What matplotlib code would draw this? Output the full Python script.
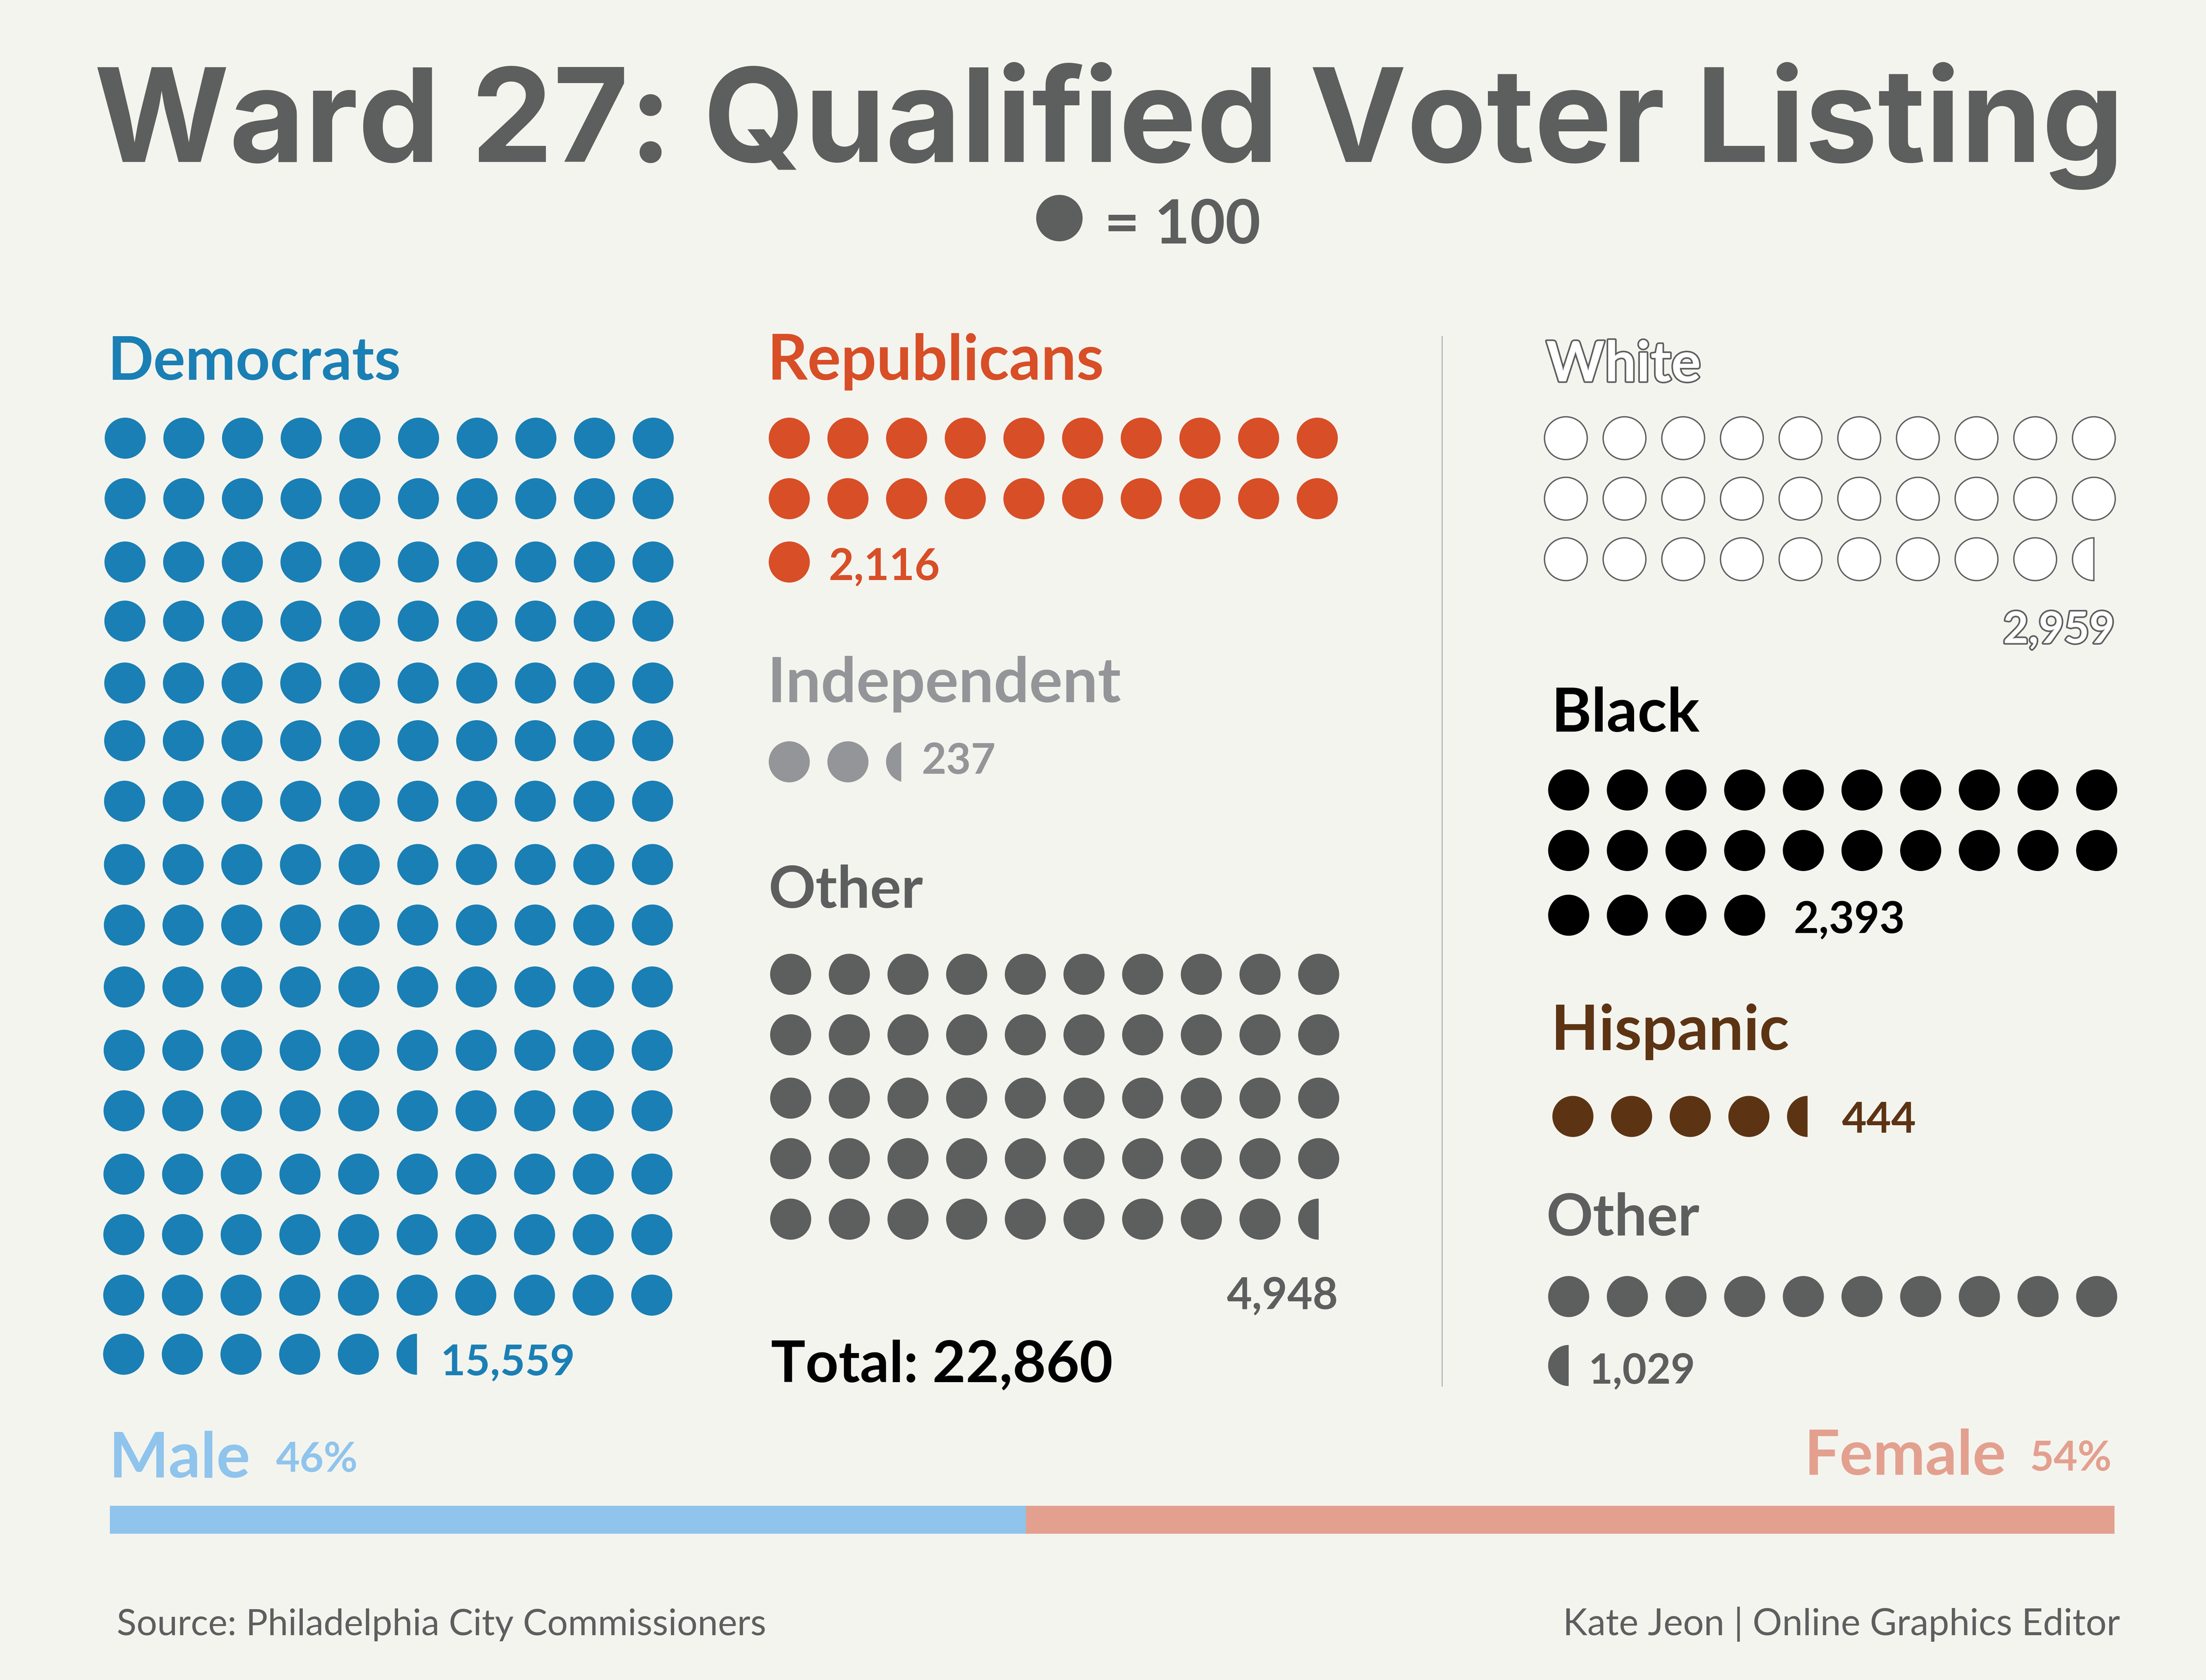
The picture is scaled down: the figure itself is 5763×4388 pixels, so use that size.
import numpy as np
import matplotlib
matplotlib.use("Agg")
import matplotlib.pyplot as plt
from matplotlib.patches import Circle, Polygon
import matplotlib.patheffects as pe

# ---------- data ----------
groups = ["Democrats", "Republicans", "Independent", "Other", "White", "Black", "Hispanic", "Other"]
counts = [15559, 2116, 237, 4948, 2959, 2393, 444, 1029]
whole_dots = [155, 21, 2, 49, 29, 24, 4, 10]
partial_dot = [0.5, 0, 0.37, 0.5, 0.5, 0, 0.5, 0.5]
total_label = "Total: 22,860"
gender_names = ["Male", "Female"]
gender_labels = ["46%", "54%"]
gender_bar = [45.7, 54.3]

# ---------- style / layout (reference scale 1568 x 1194) ----------
W, H = 1568, 1193.9
BG, DARK = "#f4f4ef", "#5d5e5e"
colors = ["#1a7fb4", "#d84e27", "#939598", DARK, "#ffffff", "#000000", "#5c3414", DARK]
gender_colors = ["#8fc4ec", "#e3a08f"]
FONT = "Lato"
R = 14.6
DX = 41.7
NUM_SCALE = 1.1

dot_x0 = [89, 561, 561, 562, 1113, 1115, 1118, 1115]
dot_rows = [
    [311, 354, 399, 441, 485, 526, 569, 614, 657, 701, 746, 789, 834, 877, 920, 962],
    [311, 354, 399],
    [541],
    [692, 735, 780, 823, 866],
    [311, 354, 397],
    [561, 604, 650],
    [793],
    [921, 970],
]
row_shift = [-1.1 / 15, 0, 0, 0, 0, 0, 0, 0]
# name: left, right, baseline
name_pos = [(76.5, 285, 270), (545.5, 785, 270), (545.5, 797, 499), (546, 656, 645),
            (1099, 1209, 271), (1102.5, 1208, 520), (1102.5, 1272, 746), (1099, 1208, 878)]
num_pos = [(313, 400, 977), (589, 661, 412), (655, 703, 550), (879, 951, 930),
           (1431, 1503, 457), (1275, 1347, 663), (1309, 1357, 805), (1129, 1198, 983)]
num_align = ["left", "left", "left", "right", "right", "left", "left", "left"]

fig = plt.figure(figsize=(5763 / 300, 4388 / 300), dpi=300, facecolor=BG)
ax = fig.add_axes([0, 0, 1, 1])
ax.set_xlim(0, W)
ax.set_ylim(H, 0)
ax.axis("off")
renderer = fig.canvas.get_renderer()


def fit_text(s, left, right, base, color, weight="bold", outline=False, family=FONT,
             scale=1.0, align="left"):
    t = ax.text(left if align == "left" else right, base, s, family=family, weight=weight,
                color=color, ha=align, va="baseline", fontsize=40)
    w = t.get_window_extent(renderer).width
    t.set_fontsize(scale * 40 * (right - left) * 5763 / W / w)
    if outline:
        t.set_color("#ffffff")
        t.set_path_effects([pe.Stroke(linewidth=2.0, foreground=DARK), pe.Normal()])
    return t


def dot(cx, cy, color, frac=1.0, r=R, outlined=False):
    kw = dict(facecolor=color, edgecolor=DARK if outlined else "none",
              linewidth=0.85 if outlined else 0, zorder=3)
    if frac >= 1:
        ax.add_patch(Circle((cx, cy), r, **kw))
    else:
        a = np.arccos(1 - 2 * frac)
        th = np.linspace(np.pi - a, np.pi + a, 60)
        ax.add_patch(Polygon(np.c_[cx + r * np.cos(th), cy + r * np.sin(th)], closed=True, **kw))


for g in range(len(groups)):
    n_whole, frac = whole_dots[g], partial_dot[g]
    outlined = groups[g] == "White"
    r = 15.2 if outlined else R
    n = n_whole + (1 if frac else 0)
    for k in range(n):
        row, col = divmod(k, 10)
        x = dot_x0[g] + row * row_shift[g] + col * DX
        y = dot_rows[g][row] + 0.4
        dot(x, y, colors[g], 1.0 if k < n_whole else frac, r, outlined)
    l, rr, b = name_pos[g]
    fit_text(groups[g], l, rr, b, colors[g], outline=outlined)
    l, rr, b = num_pos[g]
    fit_text(f"{counts[g]:,}", l, rr, b, colors[g], outline=outlined,
             scale=NUM_SCALE, align=num_align[g])

# title and key
fit_text("Ward 27: Qualified Voter Listing", 67, 1510, 115, DARK, weight="bold", family="Inter")
dot(753, 155, DARK, r=16.5)
fit_text("= 100", 785, 896, 173, DARK)

# total and divider
fit_text(total_label, 548, 791, 982, "#000000")
ax.plot([1025, 1025], [239, 985], color="#a7a8aa", lw=0.6)

# gender
fit_text(gender_names[0], 77.5, 178, 1050, gender_colors[0])
fit_text(gender_labels[0], 196, 249, 1046, gender_colors[0], scale=NUM_SCALE)
fit_text(gender_names[1], 1282.5, 1426, 1048, gender_colors[1])
fit_text(gender_labels[1], 1448, 1501, 1045, gender_colors[1], scale=NUM_SCALE, align="right")
bx = fig.add_axes([78 / W, 1 - 1090 / H, (1503 - 78) / W, 20 / H])
bx.barh([0], [gender_bar[0]], height=1, color=gender_colors[0])
bx.barh([0], [gender_bar[1]], left=[gender_bar[0]], height=1, color=gender_colors[1])
bx.set_xlim(0, 100)
bx.set_ylim(-0.5, 0.5)
bx.axis("off")

# footer
fit_text("Source: Philadelphia City Commissioners", 83, 544, 1162, DARK, weight="normal")
fit_text("Kate Jeon | Online Graphics Editor", 1111, 1507, 1162, DARK, weight="normal")

fig.savefig("out.png", dpi=300, facecolor=BG)
